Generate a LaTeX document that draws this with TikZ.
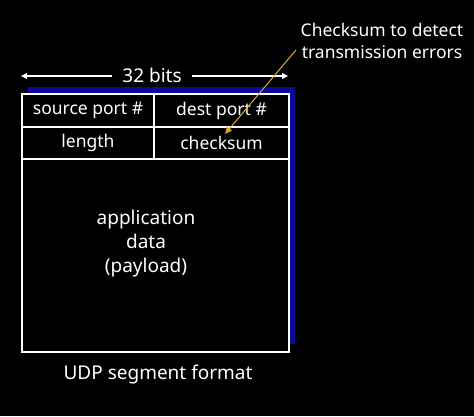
\documentclass[tikz,border=0pt]{standalone}
\usepackage{fontspec}
\setmainfont{Noto Sans}
\usetikzlibrary{arrows.meta}
\usetikzlibrary{positioning}

\definecolor{shadowblue}{RGB}{10,10,150}
\definecolor{notegold}{RGB}{225,165,50}

\begin{document}
\begin{tikzpicture}[x=1pt, y=-1pt,
    every node/.style={text=white, font=\fontsize{17.5}{22}\selectfont},
    big/.style={font=\fontsize{19}{24}\selectfont},
    cell/.style={rectangle, draw=white, line width=1.3pt, inner sep=0pt, outer sep=0pt, anchor=north west},
    bitsarrow/.style={draw=white, line width=1.2pt, -{Triangle[length=6pt, width=6pt]}},
    notearrow/.style={draw=notegold, line width=1pt, -{Triangle[length=7pt, width=6pt]}}]
    % background and bounding box
    \fill[black] (0,0) rectangle (474,416);
    \useasboundingbox (0,0) rectangle (474,416);
    % shadow behind the segment
    \fill[shadowblue] (28,87) rectangle (295,344);
    % header fields
    \node[cell, fill=black, minimum width=267pt, minimum height=258pt] (seg) at (22,94) {};
    \node[cell, minimum width=132pt, minimum height=33pt] (src) at (22,94) {};
    \node[cell, minimum width=135pt, minimum height=33pt] (dst) at (154,94) {};
    \node[cell, minimum width=132pt, minimum height=32pt] (len) at (22,127) {};
    \node[cell, minimum width=135pt, minimum height=32pt] (chk) at (154,127) {};
    \node at (src.center) {source port \#};
    \node at (dst.center) {dest port \#};
    \node at (len.center) {length};
    \node at (chk.center) {checksum};
    \node[big, align=center] (data) at (146,244) {application\\data\\(payload)};
    \node[big] (caption) at (158,375) {UDP segment format};
    % width arrow
    \node[big] (bits) at (152,75) {32 bits};
    \coordinate (bl) at (21,76);
    \coordinate (br) at (288,76);
    \draw[bitsarrow] (bits.west) ++(-7,1) -- (bl);
    \draw[bitsarrow] (bits.east) ++(7,1) -- (br);
    % note on the checksum
    \node[align=center] (note) at (382,41) {Checksum to detect\\transmission errors};
    \coordinate (tail) at (296,50);
    \coordinate (tip) at (225,134);
    \draw[notearrow] (tail) -- (tip);
\end{tikzpicture}
\end{document}
